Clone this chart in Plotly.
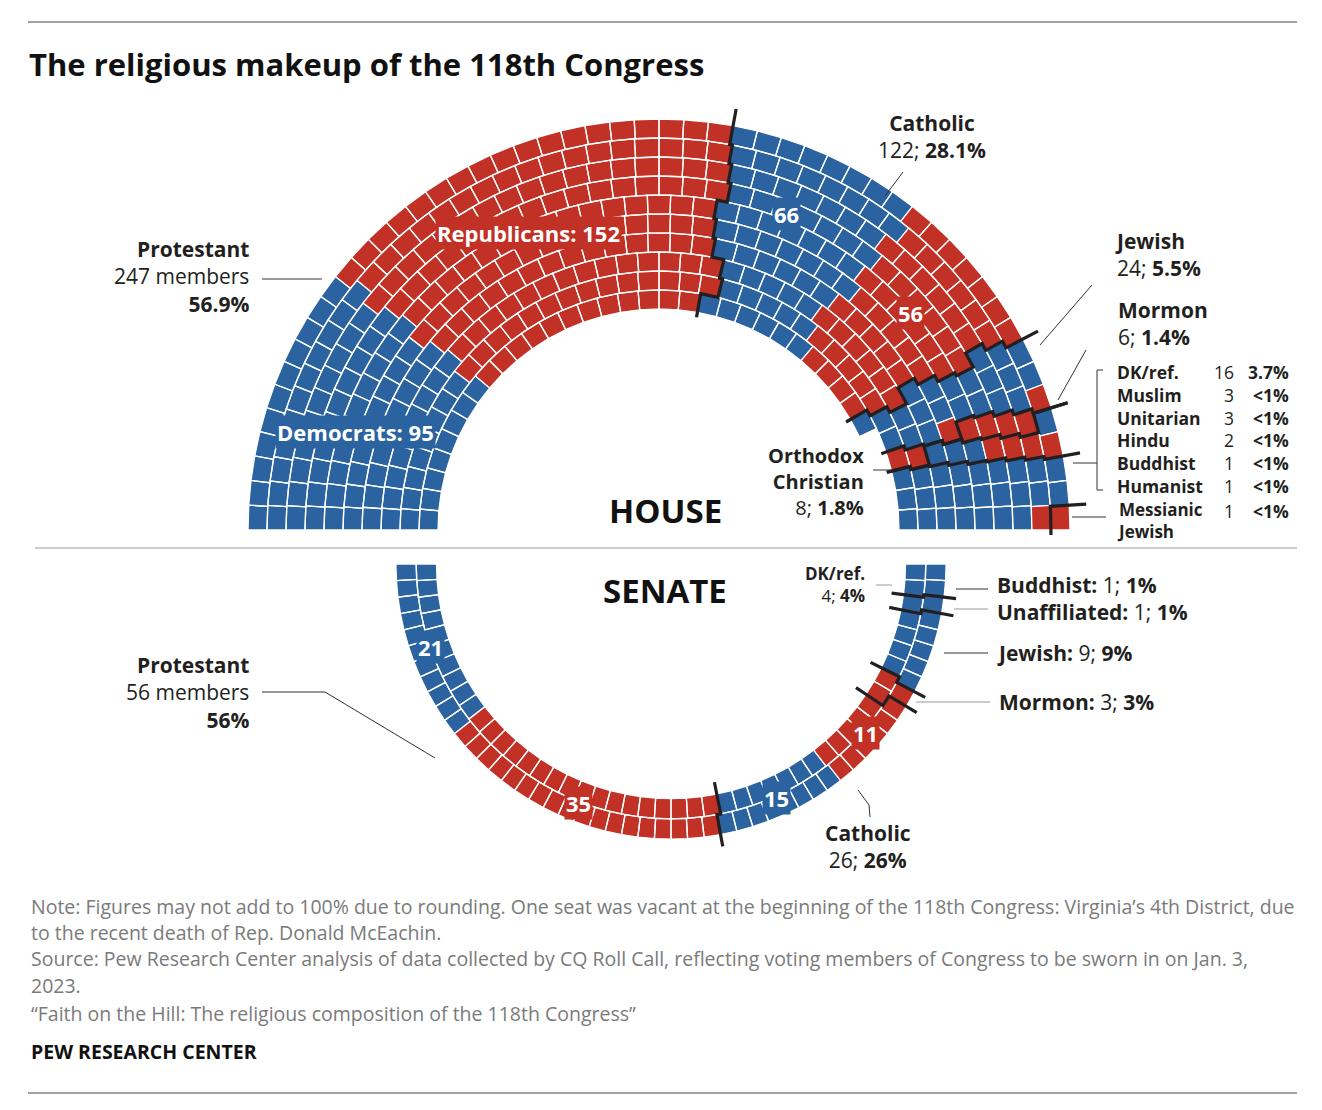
import numpy as np
import plotly.graph_objects as go

# ---------------- data ----------------
# House: groups in order along the arc (left -> right)
house_religion = ["Protestant", "Protestant", "Catholic", "Catholic", "Jewish", "Jewish", "Mormon",
                  "Orthodox Christian", "Orthodox Christian", "Other", "Other", "Messianic Jewish"]
house_party = ["D", "R", "D", "R", "D", "R", "R", "D", "R", "D", "R", "R"]
house_seats = [95, 152, 66, 56, 22, 2, 6, 4, 4, 25, 1, 1]

# Senate: groups in order along the arc (left -> bottom -> right)
senate_religion = ["Protestant", "Protestant", "Catholic", "Catholic", "Mormon", "Jewish",
                   "Unaffiliated", "Buddhist", "DK/ref."]
senate_party = ["D", "R", "D", "R", "R", "D", "D", "D", "D"]
senate_seats = [21, 35, 15, 11, 3, 9, 1, 1, 4]

house_other_names = ["DK/ref.", "Muslim", "Unitarian", "Hindu", "Buddhist", "Humanist"]
house_other_counts = [16, 3, 3, 2, 1, 1]
house_other_pct = ["3.7%", "<1%", "<1%", "<1%", "<1%", "<1%"]

notes = [
    "Note: Figures may not add to 100% due to rounding. One seat was vacant at the beginning of the 118th Congress: Virginia\u2019s 4th District, due",
    "to the recent death of Rep. Donald McEachin.",
    "Source: Pew Research Center analysis of data collected by CQ Roll Call, reflecting voting members of Congress to be sworn in on Jan. 3,",
    "2023.",
    "\u201cFaith on the Hill: The religious composition of the 118th Congress\u201d",
]

BLUE = "#2a63a0"
RED = "#c13126"
COLORS = {"D": BLUE, "R": RED}
FONT = "Open Sans"
DARK = "#231f20"


def build_layout(full, total):
    """full: seats a complete ring would hold; innermost ring takes the remainder."""
    actual = list(full)
    actual[0] = total - sum(full[1:])
    seats = []
    for k in range(len(full)):
        d = np.pi / full[k]
        for i in range(actual[k]):
            seats.append((np.pi - (i + 0.5) * d, k, i))
    seats.sort(key=lambda s: (-round(s[0], 9), -s[1]))
    return seats, actual


def polar(cx, cy, sgn, r, phi):
    return cx + r * np.cos(phi), cy - sgn * r * np.sin(phi)


def cells(seats, full, r_in, thick, cx, cy, sgn, groups_party, counts):
    owner = []
    for p, c in zip(groups_party, counts):
        owner += [p] * c
    polys = {"D": ([], []), "R": ([], [])}
    for (phi, k, i), p in zip(seats, owner):
        d = np.pi / full[k]
        a1, a2 = np.pi - i * d, np.pi - (i + 1) * d
        r1, r2 = r_in + k * thick, r_in + (k + 1) * thick
        xs, ys = [], []
        for a in np.linspace(a1, a2, 5):
            x, y = polar(cx, cy, sgn, r2, a)
            xs.append(x); ys.append(y)
        for a in np.linspace(a2, a1, 5):
            x, y = polar(cx, cy, sgn, r1, a)
            xs.append(x); ys.append(y)
        xs.append(xs[0]); ys.append(ys[0])
        polys[p][0].extend(xs + [None])
        polys[p][1].extend(ys + [None])
    return polys


def boundary(cut, seats, full, actual, r_in, thick, cx, cy, sgn, ext_out, ext_in):
    K = len(full)
    m = [0] * K
    for s in seats[:cut]:
        m[s[1]] += 1
    ended = [m[k] == actual[k] for k in range(K)]
    ks = [k for k in range(K - 1, -1, -1) if not ended[k]]
    ang = {k: np.pi - m[k] * np.pi / full[k] for k in ks}
    xs, ys = [], []

    def add(r, a):
        x, y = polar(cx, cy, sgn, r, a)
        xs.append(x); ys.append(y)

    add(r_in + (ks[0] + 1) * thick + ext_out, ang[ks[0]])
    prev = None
    for k in ks:
        ro, ri = r_in + (k + 1) * thick, r_in + k * thick
        if prev is not None and abs(ang[prev] - ang[k]) > 1e-9:
            for a in np.linspace(ang[prev], ang[k], 4):
                add(ro, a)
        add(ro, ang[k]); add(ri, ang[k])
        prev = k
    last = ks[-1]
    ri = r_in + last * thick
    below = last - 1
    if below >= 0 and ended[below]:
        end_a = np.pi - actual[below] * np.pi / full[below]
        if end_a < ang[last]:
            for a in np.linspace(ang[last], end_a - ext_in / ri, 6):
                add(ri, a)
            return xs, ys
    add(ri - ext_in, ang[last])
    return xs, ys


fig = go.Figure()

# ---------------- House ----------------
H_CX, H_CY, H_RIN, H_T, H_K = 659.0, 530.0, 221.0, 19.0, 10
h_full = [int(round(36.3 + 1.7 * k)) for k in range(H_K)]
h_seats, h_act = build_layout(h_full, sum(house_seats))
hp = cells(h_seats, h_full, H_RIN, H_T, H_CX, H_CY, 1, house_party, house_seats)
for p in ["D", "R"]:
    fig.add_trace(go.Scatter(x=hp[p][0], y=hp[p][1], mode="lines", fill="toself",
                             fillcolor=COLORS[p], line=dict(color="white", width=1.3),
                             hoverinfo="skip", showlegend=False))

cum = np.cumsum(house_seats)
for j in range(len(house_seats) - 1):
    if house_religion[j] != house_religion[j + 1]:
        bx, by = boundary(int(cum[j]), h_seats, h_full, h_act, H_RIN, H_T, H_CX, H_CY, 1, 17, 5)
        fig.add_trace(go.Scatter(x=bx, y=by, mode="lines", line=dict(color=DARK, width=3.2),
                                 hoverinfo="skip", showlegend=False))

# ---------------- Senate ----------------
S_CX, S_CY, S_RIN, S_T, S_K = 671.0, 564.0, 234.5, 20.3, 2
s_full = [int(round(np.pi * (S_RIN + S_T * (k + 0.5)) / 15.9)) for k in range(S_K)]
s_seats, s_act = build_layout(s_full, sum(senate_seats))
sp = cells(s_seats, s_full, S_RIN, S_T, S_CX, S_CY, -1, senate_party, senate_seats)
for p in ["D", "R"]:
    fig.add_trace(go.Scatter(x=sp[p][0], y=sp[p][1], mode="lines", fill="toself",
                             fillcolor=COLORS[p], line=dict(color="white", width=1.3),
                             hoverinfo="skip", showlegend=False))
cum = np.cumsum(senate_seats)
for j in range(len(senate_seats) - 1):
    a, b = senate_religion[j], senate_religion[j + 1]
    if a != b and not (a == "Unaffiliated" and b == "Buddhist"):
        bx, by = boundary(int(cum[j]), s_seats, s_full, s_act, S_RIN, S_T, S_CX, S_CY, -1, 12, 12)
        fig.add_trace(go.Scatter(x=bx, y=by, mode="lines", line=dict(color=DARK, width=3.2),
                                 hoverinfo="skip", showlegend=False))

# ---------------- text helpers ----------------
ann = []


def T(x, y, text, size=21, color=DARK, anchor="left", bold=False, bg=None):
    d = dict(x=x, y=y, xref="x", yref="y", text=("<b>%s</b>" % text) if bold else text,
             showarrow=False, xanchor=anchor, yanchor="middle", align=anchor,
             font=dict(family=FONT, size=size, color=color), borderpad=0)
    if bg:
        d.update(bgcolor=bg, borderpad=1)
    ann.append(d)


shapes = []


def L(pts, color="#333333", width=1):
    for (x0, y0), (x1, y1) in zip(pts[:-1], pts[1:]):
        shapes.append(dict(type="line", xref="x", yref="y", x0=x0, y0=y0, x1=x1, y1=y1,
                           line=dict(color=color, width=width)))


# rules
L([(28, 22), (1297, 22)], "#444444", 1)
L([(28, 1093), (1297, 1093)], "#444444", 1)
L([(35, 548), (1297, 548)], "#9a9a9a", 1.2)

T(28, 64, "The religious makeup of the 118th Congress", 31, "#111111", bold=True)

# House labels
T(250, 276, "<b>Protestant</b><br>%d members<br><b>56.9%%</b>" % (house_seats[0] + house_seats[1]),
  21, anchor="right")
L([(262, 279), (322, 279)])
T(528, 233, "Republicans: %d" % house_seats[1], 22, "white", "center", True, RED)
T(355, 432, "Democrats: %d" % house_seats[0], 22, "white", "center", True, BLUE)
T(786, 214, str(house_seats[2]), 22, "white", "center", True, BLUE)
T(910, 313, str(house_seats[3]), 22, "white", "center", True, RED)

T(932, 136.5, "<b>Catholic</b><br>%d; <b>28.1%%</b>" % (house_seats[2] + house_seats[3]), 21,
  anchor="center")
L([(903, 172), (885, 196)])

T(1114, 254.5, "<b>Jewish</b><br>%d; <b>5.5%%</b>" % (house_seats[4] + house_seats[5]), 21)
L([(1092, 285), (1040, 345)])

T(1117, 323.5, "<b>Mormon</b><br>%d; <b>1.4%%</b>" % house_seats[6], 21)
L([(1086, 350), (1058, 400)])

T(865, 481.5, "<b>Orthodox</b><br><b>Christian</b><br>%d; <b>1.8%%</b>" % (house_seats[7] + house_seats[8]),
  20, anchor="right")
L([(873, 470), (890, 470)])

L([(1103, 370), (1097, 370), (1097, 490), (1103, 490)])
L([(1073, 463), (1097, 463)])
row_y = [372, 395, 418, 440, 463, 486]
for yy, nm, c, pc in zip(row_y, house_other_names, house_other_counts, house_other_pct):
    T(1116, yy, nm, 17.5, bold=True)
    T(1235, yy, str(c), 17.5, anchor="right")
    T(1290, yy, pc, 17.5, bold=True, anchor="right")
T(1116, 520, "Messianic<br>Jewish", 17, bold=True)
T(1235, 511, str(house_seats[11]), 17.5, anchor="right")
T(1290, 511, "<1%", 17.5, bold=True, anchor="right")
L([(1072, 517), (1106, 517)])

T(665, 510, "HOUSE", 33, "#111111", "center", True)
T(665, 590, "SENATE", 33, "#111111", "center", True)

# Senate labels
T(250, 692, "<b>Protestant</b><br>%d members<br><b>56%%</b>" % (senate_seats[0] + senate_seats[1]),
  21, anchor="right")
L([(262, 692), (325, 692), (435, 758)])
T(430, 647, str(senate_seats[0]), 22, "white", "center", True, BLUE)
T(578, 803, str(senate_seats[1]), 22, "white", "center", True, RED)
T(776, 798, str(senate_seats[2]), 22, "white", "center", True, BLUE)
T(865, 733, str(senate_seats[3]), 22, "white", "center", True, RED)

T(868, 846.5, "<b>Catholic</b><br>%d; <b>26%%</b>" % (senate_seats[2] + senate_seats[3]), 21,
  anchor="center")
L([(870, 817), (869, 805), (858, 790)])

T(866, 584.5, "<b>DK/ref.</b><br>%d; <b>4%%</b>" % senate_seats[8], 17, anchor="right")
L([(876, 585), (892, 585)], "#999999")

T(996, 598, "<b>Buddhist:</b> %d; <b>1%%</b><br><b>Unaffiliated:</b> %d; <b>1%%</b>"
  % (senate_seats[7], senate_seats[6]), 21)
L([(956, 589), (988, 589)])
L([(954, 609), (988, 609)], "#999999")
T(996, 653, "<b>Jewish:</b> %d; <b>9%%</b>" % senate_seats[5], 21)
L([(944, 653), (988, 653)])
T(998, 702, "<b>Mormon:</b> %d; <b>3%%</b>" % senate_seats[4], 21)
L([(916, 702), (990, 702)], "#999999")

# notes
for yy, tx in zip([906, 932, 958, 985, 1013], notes):
    T(30, yy, tx, 19.5, "#7a7a7a")
T(30, 1051, "PEW RESEARCH CENTER", 19.5, "#111111", bold=True)

# page body has an 8px margin: size the figure to fit and map data units to page pixels
fig.update_layout(
    width=1306, height=1094, margin=dict(l=0, r=0, t=0, b=0),
    paper_bgcolor="white", plot_bgcolor="white",
    xaxis=dict(range=[8, 1314], visible=False, fixedrange=True),
    yaxis=dict(range=[1102, 8], visible=False, fixedrange=True),
    annotations=ann, shapes=shapes, showlegend=False,
)
fig.write_html("out.html")
